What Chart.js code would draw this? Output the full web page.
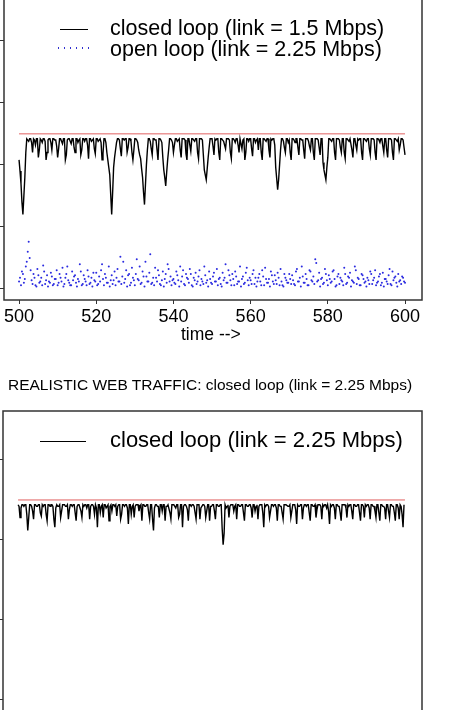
<!DOCTYPE html>
<html><head><meta charset="utf-8">
<script src="https://cdn.jsdelivr.net/npm/chart.js@4/dist/chart.umd.min.js"></script>
<style>
body{margin:0;width:474px;height:710px;overflow:hidden;background:#fff;position:relative;font-family:"Liberation Sans",Arial,sans-serif}
canvas{position:absolute;left:0}
.t{position:absolute;white-space:nowrap;color:#000}
.ln{position:absolute;height:0}
</style></head><body>
<canvas id="c1" style="top:-40px;width:474px;height:400px" width="474" height="400"></canvas>
<canvas id="c2" style="top:391px;width:474px;height:400px" width="474" height="400"></canvas>
<div class="ln" style="left:60px;top:29px;width:28px;border-top:1.5px solid #000"></div>
<div class="t" style="left:110px;top:16px;font-size:21.5px">closed loop (link = 1.5 Mbps)</div>
<div class="ln" style="left:58px;top:47px;width:32px;height:2px;background:repeating-linear-gradient(90deg,#3030d0 0 1.5px,transparent 1.5px 6px)"></div>
<div class="t" style="left:110px;top:37px;font-size:21.5px">open loop (link = 2.25 Mbps)</div>
<div class="t" style="left:181px;top:324px;font-size:17.5px">time --&gt;</div>
<div class="t" style="left:8px;top:376px;font-size:15.5px">REALISTIC WEB TRAFFIC: closed loop (link = 2.25 Mbps)</div>
<div class="ln" style="left:40px;top:441px;width:46px;border-top:1.5px solid #000"></div>
<div class="t" style="left:110px;top:427px;font-size:22px">closed loop (link = 2.25 Mbps)</div>
<script>
const times = []; for (let i = 0; i <= 200; i++) times.push(500 + i * 0.5);
const xTicks = [500, 520, 540, 560, 580, 600];
const linkLevel = 125;
const closedTop = [104,85,60,90,121,119,121,110,120,121,106,121,118,121,104,120,121,112,121,120,
106,121,119,121,104,120,121,117,121,110,121,120,108,121,119,121,105,121,120,113,
121,119,121,104,121,118,104,92,60,98,112,121,120,107,121,121,110,121,119,104,
121,120,112,105,90,68,100,121,119,108,121,120,104,121,118,96,83,104,121,120,
110,121,119,121,106,121,120,104,121,111,121,119,121,105,121,120,96,88,106,121,
121,108,120,121,104,121,119,113,121,120,105,121,118,121,110,121,120,104,121,119,
121,107,121,120,112,121,104,121,119,121,106,120,121,98,80,100,121,119,110,121,
120,104,121,118,121,108,121,120,105,121,119,112,121,104,121,120,108,121,96,88,
106,121,119,121,104,121,120,110,121,105,121,119,121,106,121,112,120,121,104,121,
119,121,108,121,120,104,121,118,121,110,121,106,121,120,104,121,119,112,121,120,108];
const closedTopMid = [95,70,75,110,120,121,118,121,116,121,112,120,121,119,110,121,118,121,120,115,
113,121,117,121,108,121,119,121,114,121,118,121,112,121,121,116,121,119,121,109,
121,120,118,109,121,110,98,76,78,106,118,121,113,121,120,121,114,121,110,112,
121,118,108,97,78,84,112,121,113,121,120,112,121,120,106,90,94,112,121,118,
116,121,120,112,121,121,109,121,116,121,120,121,110,121,121,108,92,97,114,121,
115,121,121,110,121,120,116,121,121,110,121,120,121,116,121,113,121,110,121,121,
113,121,118,121,121,110,121,120,121,112,121,121,116,89,88,112,121,114,121,118,
110,121,120,121,114,121,120,112,121,121,115,121,110,121,121,114,121,102,92,98,
121,120,121,110,121,121,114,121,110,121,120,121,112,121,116,121,121,110,121,120,
121,113,121,121,110,121,120,121,115,121,112,121,121,110,121,120,121,116,121,114];
const openTop = [6,3,12,8,22,38,15,4,9,2,11,6,3,14,7,2,5,10,4,8,
3,12,6,2,9,18,5,3,7,11,2,6,14,4,8,3,10,5,2,7,
13,4,6,20,3,9,5,2,11,7,3,16,6,4,22,8,2,12,5,9,
3,24,7,4,14,2,10,6,28,5,3,9,15,4,7,2,12,20,6,3,
8,4,11,2,6,15,3,9,5,12,2,7,4,10,3,6,18,5,2,8,
4,13,6,3,9,2,7,20,5,11,3,8,14,4,6,2,10,5,17,3,
7,12,4,2,9,6,15,3,8,5,2,11,4,7,13,3,6,2,9,5,
12,4,7,3,16,6,2,10,5,8,3,14,6,4,21,7,2,9,5,12,
3,8,6,15,2,10,4,7,3,12,5,9,2,6,18,4,8,3,11,5,
2,7,14,4,9,3,6,12,5,2,8,4,16,3,7,10,2,6,4,9,5];
const openTopMid = [9,14,5,18,30,25,7,12,3,16,5,9,19,4,11,6,13,3,8,15,
5,9,17,4,12,7,3,14,10,5,8,20,3,11,6,15,4,9,13,6,
3,10,15,8,12,5,18,7,4,14,9,6,26,10,5,15,11,3,17,7,
12,8,18,5,10,22,6,13,4,9,17,6,11,3,14,8,5,16,10,7,
5,14,7,18,10,4,12,8,16,3,9,13,6,15,8,4,11,7,14,5,
10,6,16,8,4,13,9,5,15,7,12,3,10,6,18,8,4,13,7,9,
4,15,9,6,12,3,10,17,5,8,14,6,11,4,9,16,3,12,7,5,
8,11,4,14,6,9,18,5,12,3,15,7,10,24,6,13,8,4,16,7,
11,5,14,8,3,12,9,6,17,4,10,13,7,5,15,9,3,12,8,6,
9,4,12,7,15,5,10,3,13,8,6,11,4,14,9,5,12,7,10,6];
const closedBottom = [122,114,122,121,122,106,122,121,113,122,121,122,115,121,122,112,122,122,121,108,
122,121,114,122,122,121,113,122,121,122,112,122,122,114,121,122,122,113,122,121,
122,108,122,121,114,122,121,112,122,122,121,115,122,113,122,121,122,110,122,121,
114,122,122,121,112,122,121,122,113,122,106,122,121,114,122,122,112,121,122,113,
122,121,122,114,122,108,122,121,112,122,122,121,113,122,113,121,122,114,122,112,
121,122,113,122,121,122,97,122,121,114,122,122,121,113,122,121,122,112,122,121,
122,114,122,121,113,122,122,108,121,122,114,122,121,122,112,122,121,113,122,122,
121,114,122,122,110,121,122,113,122,121,122,112,122,121,114,122,122,113,121,122,
122,110,121,122,113,122,121,112,122,122,114,121,122,113,122,121,122,112,122,114,
121,122,113,122,121,114,122,112,122,121,113,122,114,122,121,112,122,113,121,108,122];
const closedBottomMid = [121,120,122,122,116,114,122,118,122,121,122,117,122,122,116,122,121,122,113,120,
121,122,118,122,121,122,119,122,122,117,121,122,118,122,122,120,122,121,122,116,
120,122,117,122,122,120,122,121,118,122,122,121,122,116,122,122,120,122,116,122,
121,122,118,122,122,121,122,117,122,113,120,122,121,122,118,122,121,122,117,122,
122,120,122,116,122,121,122,119,122,121,122,117,122,122,120,122,121,118,122,121,
122,118,122,121,122,107,104,120,122,121,122,118,122,122,121,122,117,122,121,122,
120,122,118,122,121,122,117,122,122,121,118,122,122,120,122,121,117,122,122,121,
122,118,122,119,122,121,122,120,122,122,117,122,121,122,119,122,121,122,122,120,
118,122,122,120,122,121,117,122,122,120,122,122,118,122,121,122,117,122,121,122,
122,120,122,121,118,122,117,122,121,120,122,118,122,121,117,122,120,122,116,122];

function pts(main, mid) {
  const out = [];
  main.forEach((v, i) => {
    out.push({x: times[i], y: v});
    if (mid && i < mid.length) out.push({x: times[i] + 0.25, y: mid[i]});
  });
  return out;
}
const link = [{x: 500, y: linkLevel}, {x: 600, y: linkLevel}];
const frame = {id: 'frame', afterDraw(c) {
  const a = c.chartArea, g = c.ctx; g.save(); g.strokeStyle = '#333'; g.lineWidth = 1.5;
  g.strokeRect(a.left, a.top, a.right - a.left, a.bottom - a.top); g.restore();
}};
function opts(ymin, ymax, showX) {
  return {
    responsive: false, animation: false, devicePixelRatio: 1,
    layout: {padding: {top: 20, right: 52, left: 0, bottom: 0}},
    plugins: {legend: {display: false}, tooltip: {enabled: false}},
    scales: {
      x: {type: 'linear', min: 496.1, max: 604.4, display: true,
        afterBuildTicks: s => { s.ticks = xTicks.map(v => ({value: v})); },
        afterFit: s => { s.height = 60; },
        grid: {drawOnChartArea: false, tickLength: 4, color: showX ? '#333' : 'rgba(0,0,0,0)'}, border: {display: false},
        ticks: {display: showX, color: '#000', font: {family: 'Liberation Sans', size: 18}, padding: 2, maxRotation: 0}},
      y: {min: ymin, max: ymax, afterFit: s => { s.width = 3; },
        afterBuildTicks: s => { const t = []; for (let v = 0; v <= ymax; v += 50) t.push({value: v}); s.ticks = t; },
        grid: {drawOnChartArea: false, tickLength: 4, color: '#333'}, border: {display: false},
        ticks: {display: false}}
    }
  };
}
new Chart(document.getElementById('c1'), {type: 'line', plugins: [frame],
  data: {datasets: [
    {data: link, borderColor: '#e06060', borderWidth: 1, pointRadius: 0},
    {data: pts(closedTop, closedTopMid), borderColor: '#000', borderWidth: 1.4, pointRadius: 0, tension: 0},
    {data: pts(openTop, openTopMid), showLine: false, pointRadius: 1, pointBackgroundColor: '#2a2ae0', pointBorderWidth: 0}
  ]}, options: opts(-8.9, 249, true)});
new Chart(document.getElementById('c2'), {type: 'line', plugins: [frame],
  data: {datasets: [
    {data: link, borderColor: '#e06060', borderWidth: 1, pointRadius: 0},
    {data: pts(closedBottom, closedBottomMid), borderColor: '#000', borderWidth: 1.4, pointRadius: 0, tension: 0}
  ]}, options: opts(-19.4, 180.6, false)});
</script></body></html>
